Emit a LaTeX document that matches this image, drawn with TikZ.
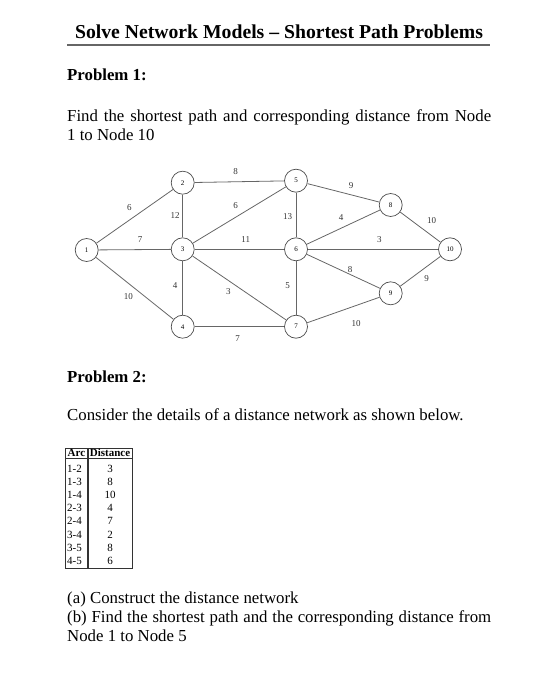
\documentclass[tikz,border=0pt]{standalone}
\usepackage{fontspec}
\setmainfont{Liberation Serif}
\usetikzlibrary{positioning}

\begin{document}
\begin{tikzpicture}[x=1pt, y=-1pt,
  vertex/.style={circle, draw=black!70, line width=0.7pt, fill=white,
    minimum size=23pt, inner sep=0pt, font=\fontsize{7}{8}\selectfont},
  arc/.style={draw=black!60, line width=0.8pt},
  wt/.style={text=black!80, inner sep=0pt, font=\fontsize{9}{9}\selectfont},
  body/.style={anchor=base west, inner sep=0pt, font=\fontsize{16.8}{19}\selectfont},
  head/.style={anchor=base west, inner sep=0pt, font=\fontsize{16.8}{19}\selectfont\bfseries},
  cell/.style={inner sep=0pt, font=\fontsize{11}{11}\selectfont}]

  \useasboundingbox (0,0) rectangle (557,700);

  % --- 1. title ---
  \node[anchor=base, inner sep=0pt, font=\fontsize{19.7}{22}\selectfont\bfseries]
    (title) at (279,39) {Solve Network Models -- Shortest Path Problems};
  \coordinate (ulA) at (67,45);
  \coordinate (ulB) at (490,45);
  \draw[black!60, line width=1.2pt] (ulA) -- (ulB);

  % --- 2. problem 1 ---
  \node[head] (p1) at (67,81) {Problem 1:};
  \node[body] (p1a) at (67,122) {\makebox[424pt][s]{Find the shortest path and corresponding distance from Node}};
  \node[body] (p1b) at (67,141) {1 to Node 10};

  % --- 3. network ---
  \node[vertex] (n1)  at (86.7,250)  {1};
  \node[vertex] (n2)  at (182.7,182.7) {2};
  \node[vertex] (n3)  at (182.7,249.3) {3};
  \node[vertex] (n4)  at (182.7,326.7) {4};
  \node[vertex] (n5)  at (296,180.7) {5};
  \node[vertex] (n6)  at (296,249.3) {6};
  \node[vertex] (n7)  at (296,326.7) {7};
  \node[vertex] (n8)  at (390.7,205) {8};
  \node[vertex] (n9)  at (390.7,293.3) {9};
  \node[vertex] (n10) at (450,249.3) {10};

  \foreach \a/\b in {1/2,1/3,1/4,2/3,2/5,3/5,3/6,3/4,3/7,4/7,5/6,5/8,6/8,6/10,6/9,6/7,7/9,8/10,9/10}
    \draw[arc] (n\a) -- (n\b);

  % weights
  \foreach \e/\x/\y/\w in {12/129.3/207.3/6, 13/140/239.3/7, 14/128.3/296.7/10,
      23/175/216/12, 25/235.7/171.7/8, 35/235.7/205.7/6, 36/245.7/240/11,
      34/175/286/4, 37/228.3/291.7/3, 47/237.7/339/7, 56/287.7/216.7/13,
      58/351/186/9, 68/341/217.7/4, 610/379.3/240/3, 69/350/269.3/8,
      67/287.7/286/5, 79/356/323.3/10, 810/431.7/221/10, 910/426.7/278.3/9}
    \node[wt] (w\e) at (\x,\y) {\w};

  % --- 4. problem 2 ---
  \node[head] (p2) at (67,382) {Problem 2:};
  \node[body] (p2a) at (67,420) {Consider the details of a distance network as shown below.};

  % --- 5. table ---
  \coordinate (tabNW) at (65,448);
  \coordinate (tabSE) at (132,568);
  \draw[black!80, line width=0.8pt] (tabNW) rectangle (tabSE);
  \draw[black!80, line width=1.2pt] (88,448) -- (88,568);
  \draw[black!80, line width=0.8pt] (65,458) -- (132,458);
  \node[cell, anchor=base, font=\fontsize{11}{11}\selectfont\bfseries] (hArc) at (76.5,456) {Arc};
  \node[cell, anchor=base, font=\fontsize{11}{11}\selectfont\bfseries] (hDist) at (110,456) {Distance};
  \foreach \arc/\dist [count=\i from 0] in {1-2/3,1-3/8,1-4/10,2-3/4,2-4/7,3-4/2,3-5/8,4-5/6}{
    \node[cell, anchor=base west] (arc\i) at (67,472.5+13.1*\i) {\arc};
    \node[cell, anchor=base] (dist\i) at (110,472.5+13.1*\i) {\dist};
  }

  % --- 6. questions ---
  \node[body] (qa) at (67,603) {(a) Construct the distance network};
  \node[body] (qb) at (67,622) {\makebox[424pt][s]{(b) Find the shortest path and the corresponding distance from}};
  \node[body] (qc) at (67,641) {Node 1 to Node 5};

\end{tikzpicture}
\end{document}
